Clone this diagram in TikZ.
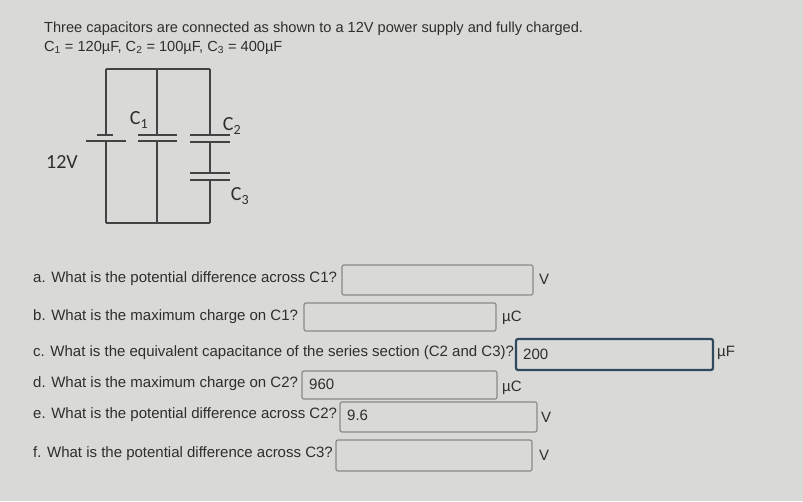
\documentclass[tikz,border=0pt]{standalone}
\usepackage{fontspec}
\setmainfont{Liberation Sans}
\newfontfamily\circfont{Carlito}
\definecolor{bg}{HTML}{D9D9D7}
\definecolor{ink}{HTML}{2E2E2E}
\definecolor{boxc}{HTML}{8A8A8A}
\definecolor{focus}{HTML}{2F4A5E}
\begin{document}
\begin{tikzpicture}[x=1pt,y=-1pt,
  txt/.style={anchor=west,inner sep=0pt,text=ink,font=\fontsize{15}{17}\selectfont},
  ansbox/.style={draw=boxc,line width=1.2pt,rounded corners=2pt,fill=bg},
  wire/.style={draw=ink!90,line width=2.2pt},
  plate/.style={draw=ink!90,line width=2.4pt},
  clab/.style={inner sep=0pt,text=ink,font=\circfont\fontsize{20}{22}\selectfont}]
\fill[bg] (0,0) rectangle (803,501);
\useasboundingbox (0,0) rectangle (803,501);
% title
\node[txt,font=\fontsize{14.6}{17}\selectfont] (t1) at (44,29) {Three capacitors are connected as shown to a 12V power supply and fully charged.};
\node[txt,font=\fontsize{14.6}{17}\selectfont] (t2) at (44,48) {C\textsubscript{1} = 120µF, C\textsubscript{2} = 100µF, C\textsubscript{3} = 400µF};
% circuit
\coordinate (tl) at (106,69); \coordinate (tm) at (157,69); \coordinate (tr) at (210,69);
\coordinate (bl) at (106,223); \coordinate (bm) at (157,223); \coordinate (br) at (210,223);
\draw[wire] (tl) -- (tr); \draw[wire] (bl) -- (br);
\draw[wire] (tl) -- (106,135); \draw[wire] (106,141) -- (bl);
\draw[plate] (97,135) -- (113,135); \draw[plate] (86,141) -- (126,141);
\draw[wire] (tm) -- (157,135); \draw[wire] (157,141) -- (bm);
\draw[plate] (138,135) -- (177,135); \draw[plate] (138,141) -- (177,141);
\draw[wire] (tr) -- (210,135); \draw[wire] (210,142) -- (210,173); \draw[wire] (210,180) -- (br);
\draw[plate] (190,135) -- (230,135); \draw[plate] (190,142) -- (230,142);
\draw[plate] (190,173) -- (230,173); \draw[plate] (190,180) -- (230,180);
\node[clab] (v) at (62,162) {12V};
\node[clab] (c1) at (139,120) {C\textsubscript{1}};
\node[clab] (c2) at (232,126) {C\textsubscript{2}};
\node[clab] (c3) at (240,196) {C\textsubscript{3}};
% questions
\node[txt] (qa) at (33,279) {a. What is the potential difference across C1?};
\draw[ansbox] (342,265) rectangle (533,295);
\node[txt] (ua) at (539,279) {V};
\node[txt] (qb) at (33,317) {b. What is the maximum charge on C1?};
\draw[ansbox] (304,303) rectangle (496,331);
\node[txt] (ub) at (502,318) {µC};
\node[txt] (qc) at (33,353) {c. What is the equivalent capacitance of the series section (C2 and C3)?};
\draw[ansbox,draw=focus,line width=2.2pt] (516,339) rectangle (713,370);
\node[txt] (vc) at (523,354) {200};
\node[txt] (uc) at (717,353) {µF};
\node[txt] (qd) at (33,384) {d. What is the maximum charge on C2?};
\draw[ansbox] (302,371) rectangle (497,399);
\node[txt] (vd) at (309,384) {960};
\node[txt] (ud) at (502,388) {µC};
\node[txt] (qe) at (33,415) {e. What is the potential difference across C2?};
\draw[ansbox] (340,402) rectangle (537,432);
\node[txt] (ve) at (347,415) {9.6};
\node[txt] (ue) at (541,417) {V};
\node[txt] (qf) at (33,454) {f. What is the potential difference across C3?};
\draw[ansbox] (336,440) rectangle (532,471);
\node[txt] (uf) at (539,455) {V};
\end{tikzpicture}
\end{document}
